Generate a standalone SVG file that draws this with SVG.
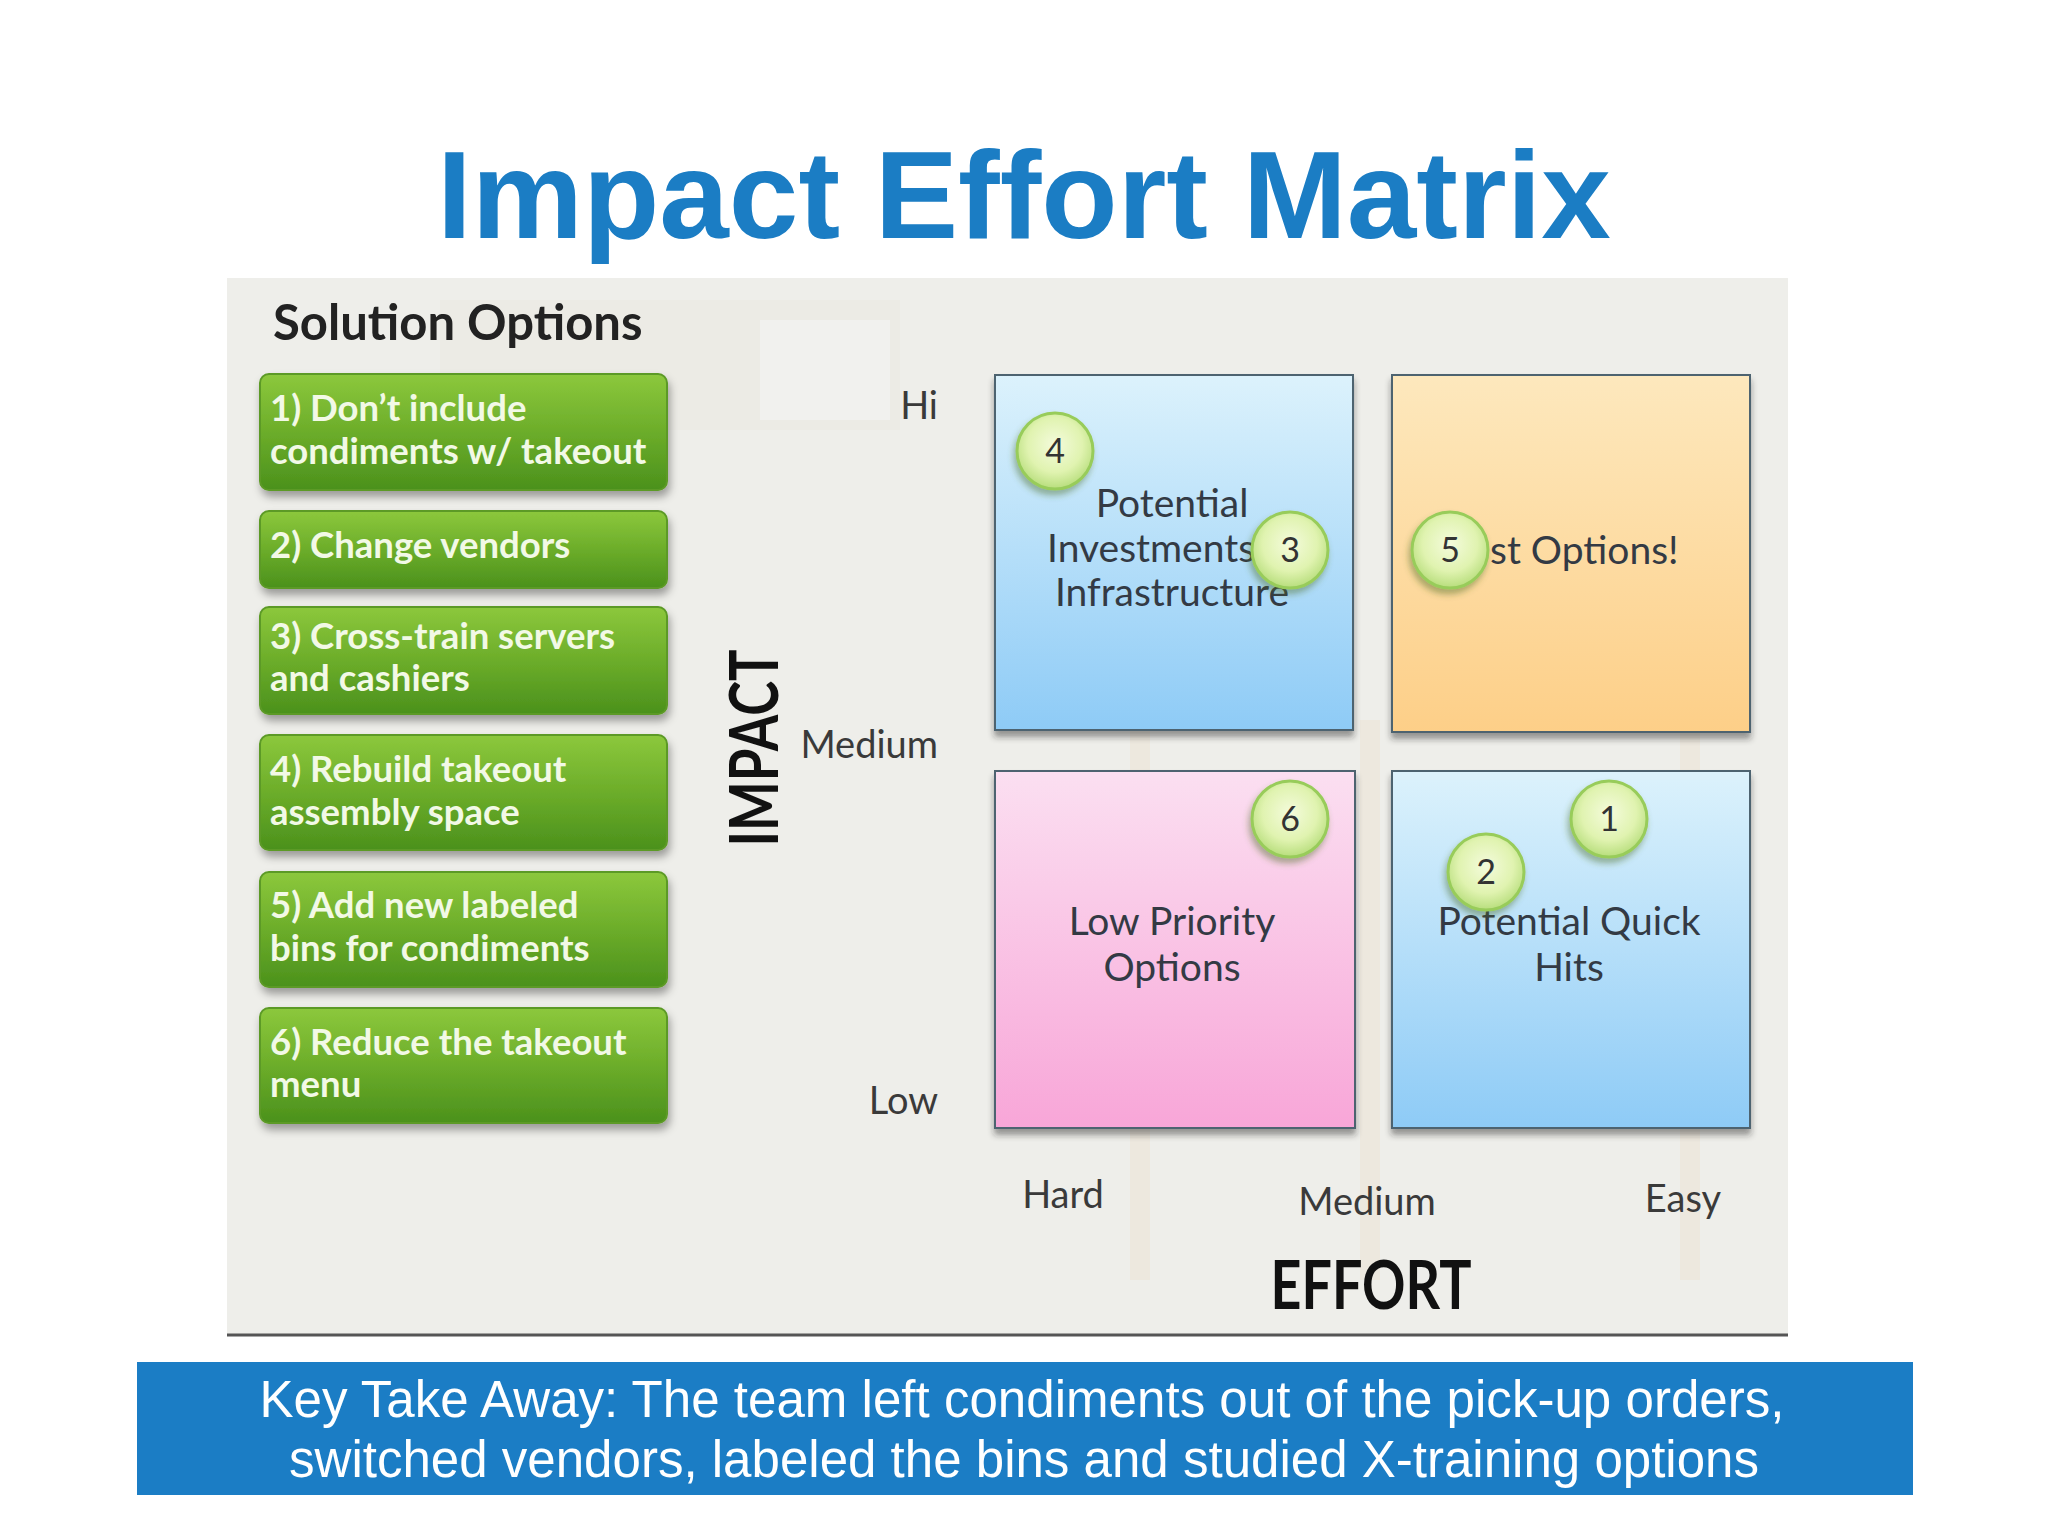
<svg xmlns="http://www.w3.org/2000/svg" width="2048" height="1536" viewBox="0 0 2048 1536">
<defs>
<linearGradient id="gGreen" x1="0" y1="0" x2="0" y2="1">
<stop offset="0" stop-color="#8cc83c"/>
<stop offset="0.5" stop-color="#6cad2a"/>
<stop offset="1" stop-color="#4b911c"/>
</linearGradient>
<linearGradient id="gBlue" x1="0" y1="0" x2="0" y2="1">
<stop offset="0" stop-color="#dcf2fc"/>
<stop offset="1" stop-color="#8ecbf6"/>
</linearGradient>
<linearGradient id="gOrange" x1="0" y1="0" x2="0" y2="1">
<stop offset="0" stop-color="#fde8bd"/>
<stop offset="1" stop-color="#fdcf88"/>
</linearGradient>
<linearGradient id="gPink" x1="0" y1="0" x2="0" y2="1">
<stop offset="0" stop-color="#fbdff1"/>
<stop offset="1" stop-color="#f8a6d8"/>
</linearGradient>
<radialGradient id="gBall" cx="0.5" cy="0.42" r="0.6">
<stop offset="0" stop-color="#f4fbdc"/>
<stop offset="0.6" stop-color="#e0f3b0"/>
<stop offset="1" stop-color="#b4dc78"/>
</radialGradient>
<filter id="shadow" x="-10%" y="-10%" width="125%" height="130%">
<feDropShadow dx="2" dy="6" stdDeviation="4" flood-color="#000" flood-opacity="0.35"/>
</filter>
<filter id="qshadow" x="-5%" y="-5%" width="115%" height="115%">
<feDropShadow dx="0" dy="6" stdDeviation="3" flood-color="#222" flood-opacity="0.45"/>
</filter>
<filter id="bshadow" x="-30%" y="-30%" width="160%" height="170%">
<feDropShadow dx="-2" dy="5" stdDeviation="3" flood-color="#4a6a20" flood-opacity="0.45"/>
</filter>
</defs>
<style>
.title{font-family:"Liberation Sans",Arial,sans-serif;font-weight:bold;font-size:125px;fill:#1b7dc4}
.opt{font-family:Lato,"Open Sans",sans-serif;font-weight:bold;font-size:36.5px;fill:#f2f9e6}
.head{font-family:Lato,"Open Sans",sans-serif;font-weight:bold;font-size:49px;fill:#222}
.axis{font-family:Lato,"Open Sans",sans-serif;font-size:38px;fill:#3a3a3a}
.axtitle{font-family:Lato,"Open Sans",sans-serif;font-weight:bold;font-size:66px;fill:#111}
.qtext{font-family:Lato,"Open Sans",sans-serif;font-size:39px;fill:#333a44;text-anchor:middle}
.num{font-family:Lato,"Open Sans",sans-serif;font-size:34px;fill:#333;text-anchor:middle}
.key{font-family:"Liberation Sans",Arial,sans-serif;font-size:51px;fill:#fff;text-anchor:middle}
.gbox{fill:url(#gGreen);stroke:#5c9a26;stroke-width:2}
.ball{fill:url(#gBall);stroke:#98cc5a;stroke-width:3}
.quad{stroke:#4d6470;stroke-width:2}
</style>
<rect x="0" y="0" width="2048" height="1536" fill="#ffffff"/>
<text class="title" x="1024" y="238" text-anchor="middle">Impact Effort Matrix</text>

<g id="panel">
<rect x="227" y="278" width="1561" height="1057" fill="#eeeeea"/>
<rect x="440" y="300" width="460" height="130" fill="#e9e4dc" opacity="0.35"/>
<rect x="760" y="320" width="130" height="100" fill="#f4f4f2" opacity="0.7"/>
<rect x="1130" y="720" width="20" height="560" fill="#eadfce" opacity="0.4"/>
<rect x="1360" y="720" width="20" height="560" fill="#eadfce" opacity="0.4"/>
<rect x="1680" y="720" width="20" height="560" fill="#eadfce" opacity="0.4"/>
<line x1="227" y1="1335" x2="1788" y2="1335" stroke="#555" stroke-width="3"/>
</g>

<text class="head" x="273" y="340">Solution Options</text>

<g id="opt1"><rect class="gbox" x="260" y="374" width="407" height="116" rx="9" filter="url(#shadow)"/>
<text class="opt" x="270" y="421">1) Don’t include</text><text class="opt" x="270" y="464">condiments w/ takeout</text></g>
<g id="opt2"><rect class="gbox" x="260" y="511" width="407" height="77" rx="9" filter="url(#shadow)"/>
<text class="opt" x="270" y="558">2) Change vendors</text></g>
<g id="opt3"><rect class="gbox" x="260" y="607" width="407" height="107" rx="9" filter="url(#shadow)"/>
<text class="opt" x="270" y="649">3) Cross-train servers</text><text class="opt" x="270" y="691">and cashiers</text></g>
<g id="opt4"><rect class="gbox" x="260" y="735" width="407" height="115" rx="9" filter="url(#shadow)"/>
<text class="opt" x="270" y="782">4) Rebuild takeout</text><text class="opt" x="270" y="825">assembly space</text></g>
<g id="opt5"><rect class="gbox" x="260" y="872" width="407" height="115" rx="9" filter="url(#shadow)"/>
<text class="opt" x="270" y="918">5) Add new labeled</text><text class="opt" x="270" y="961">bins for condiments</text></g>
<g id="opt6"><rect class="gbox" x="260" y="1008" width="407" height="115" rx="9" filter="url(#shadow)"/>
<text class="opt" x="270" y="1055">6) Reduce the takeout</text><text class="opt" x="270" y="1097">menu</text></g>

<g id="axes">
<text class="axis" x="938" y="419" text-anchor="end">Hi</text>
<text class="axis" x="938" y="758" text-anchor="end">Medium</text>
<text class="axis" x="938" y="1114" text-anchor="end">Low</text>
<text class="axtitle" transform="translate(778 748) rotate(-90)" text-anchor="middle" textLength="197" lengthAdjust="spacingAndGlyphs">IMPACT</text>
<text class="axis" x="1063" y="1208" text-anchor="middle">Hard</text>
<text class="axis" x="1367" y="1215" text-anchor="middle">Medium</text>
<text class="axis" x="1683" y="1212" text-anchor="middle">Easy</text>
<text class="axtitle" x="1371" y="1309" text-anchor="middle" textLength="201" lengthAdjust="spacingAndGlyphs">EFFORT</text>
</g>

<g id="q-investments"><rect class="quad" x="995" y="375" width="358" height="355" fill="url(#gBlue)" filter="url(#qshadow)"/>
<text class="qtext" x="1172" y="517">Potential</text>
<text class="qtext" x="1047" y="562" style="text-anchor:start">Investments</text>
<text class="qtext" x="1172" y="606">Infrastructure</text></g>
<g id="q-best"><rect class="quad" x="1392" y="375" width="358" height="357" fill="url(#gOrange)" filter="url(#qshadow)" stroke="#8a7a5a"/>
<text class="qtext" x="1490" y="564" style="text-anchor:start">st Options!</text></g>
<g id="q-low"><rect class="quad" x="995" y="771" width="360" height="357" fill="url(#gPink)" filter="url(#qshadow)" stroke="#806070"/>
<text class="qtext" x="1172" y="935">Low Priority</text>
<text class="qtext" x="1172" y="981">Options</text></g>
<g id="q-quick"><rect class="quad" x="1392" y="771" width="358" height="357" fill="url(#gBlue)" filter="url(#qshadow)" stroke="#3f7f95"/>
<text class="qtext" x="1569" y="935">Potential Quick</text>
<text class="qtext" x="1569" y="981">Hits</text></g>

<g id="b4"><circle class="ball" cx="1055" cy="451" r="38" filter="url(#bshadow)"/><text class="num" x="1055" y="463">4</text></g>
<g id="b3"><circle class="ball" cx="1290" cy="550" r="38" filter="url(#bshadow)"/><text class="num" x="1290" y="562">3</text></g>
<g id="b5"><circle class="ball" cx="1450" cy="550" r="38" filter="url(#bshadow)"/><text class="num" x="1450" y="562">5</text></g>
<g id="b6"><circle class="ball" cx="1290" cy="819" r="38" filter="url(#bshadow)"/><text class="num" x="1290" y="831">6</text></g>
<g id="b1"><circle class="ball" cx="1609" cy="819" r="38" filter="url(#bshadow)"/><text class="num" x="1609" y="831">1</text></g>
<g id="b2"><circle class="ball" cx="1486" cy="872" r="38" filter="url(#bshadow)"/><text class="num" x="1486" y="884">2</text></g>

<g id="connectors"></g>

<g id="takeaway">
<rect x="137" y="1362" width="1776" height="133" fill="#1b7dc5"/>
<text class="key" x="1022" y="1417" textLength="1525" lengthAdjust="spacingAndGlyphs">Key Take Away: The team left condiments out of the pick-up orders,</text>
<text class="key" x="1024" y="1477" textLength="1470" lengthAdjust="spacingAndGlyphs">switched vendors, labeled the bins and studied X-training options</text>
</g>
</svg>
